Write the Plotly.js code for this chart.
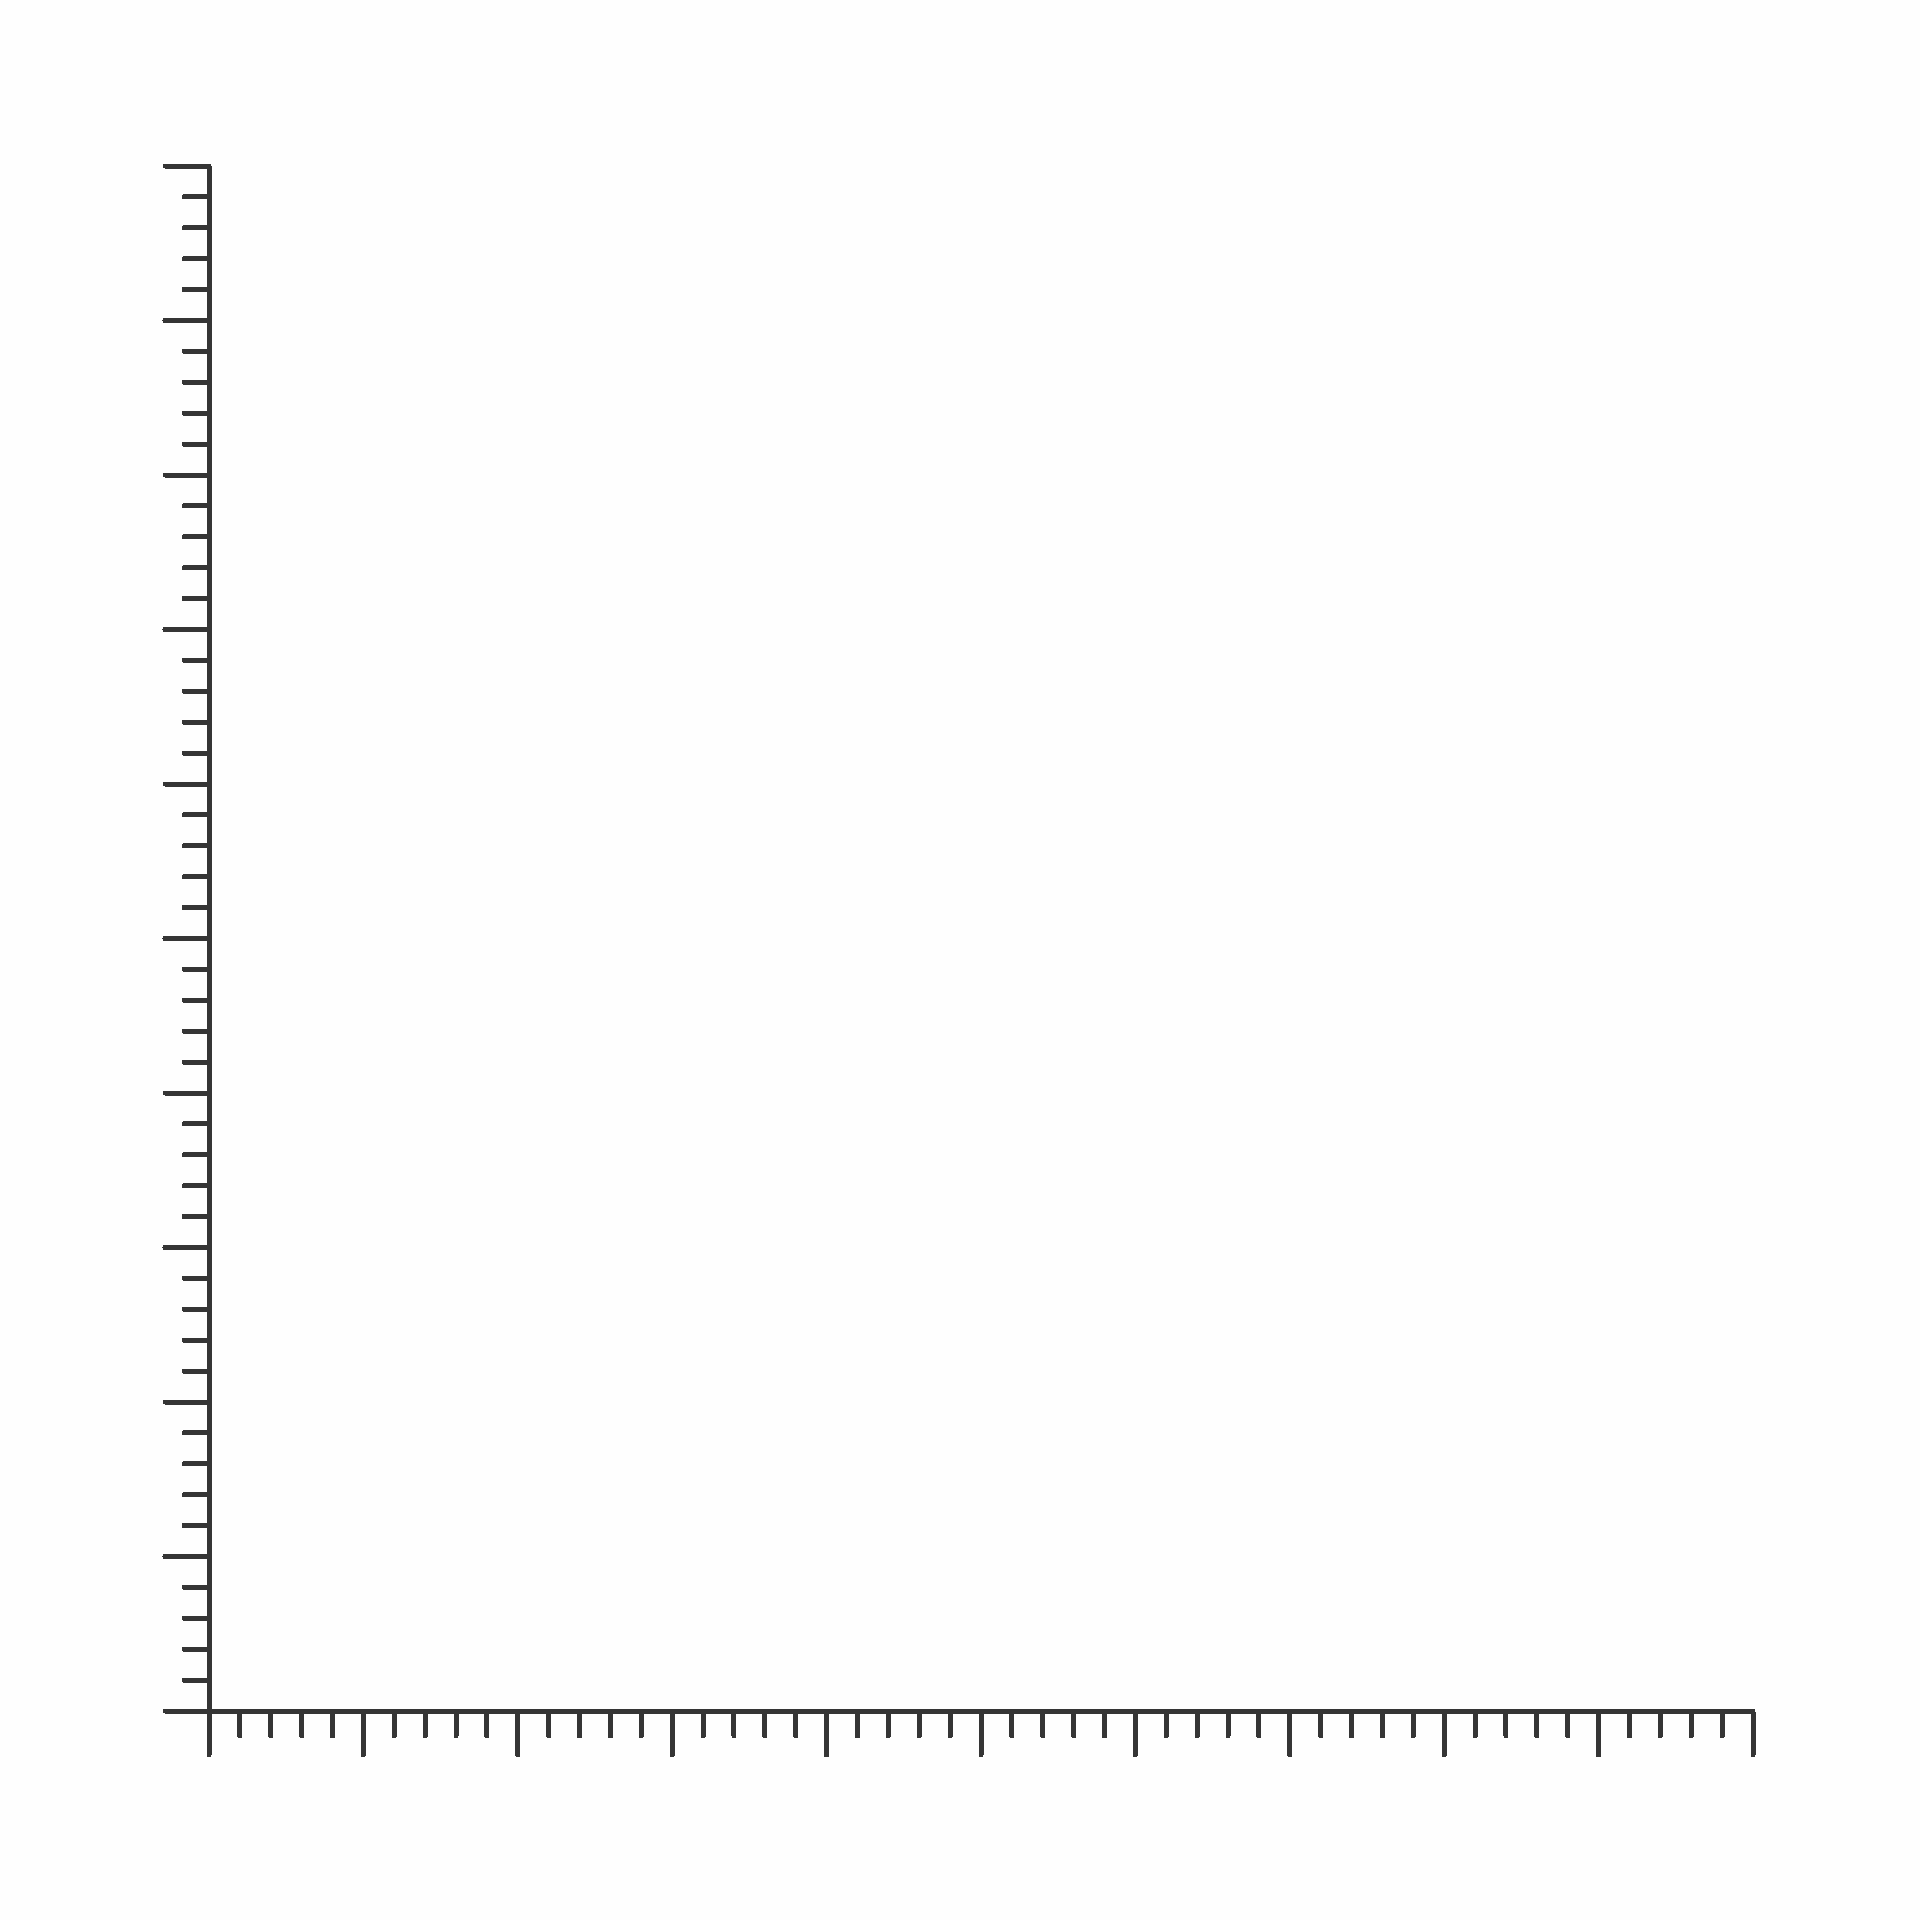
<!DOCTYPE html>
<html>
<head>
<meta charset="utf-8">
<script src="https://cdn.plot.ly/plotly-3.0.1.min.js"></script>
<style>
  body { margin: 0; background: #fefefe; }
  #chart { width: 1920px; height: 1920px; }
  /* rounded ends like the reference strokes */
  #chart path.ticks, #chart path.crisp { stroke-linecap: round; stroke-linejoin: round; }
</style>
</head>
<body>
<div id="chart"></div>
<script>
// blank graph paper axes: 0..10, major every 1, minor every 0.2
var majorTicks = [0, 1, 2, 3, 4, 5, 6, 7, 8, 9, 10];
var minorTicks = [0.2, 0.4, 0.6, 0.8, 1.2, 1.4, 1.6, 1.8, 2.2, 2.4, 2.6, 2.8,
  3.2, 3.4, 3.6, 3.8, 4.2, 4.4, 4.6, 4.8, 5.2, 5.4, 5.6, 5.8, 6.2, 6.4, 6.6, 6.8,
  7.2, 7.4, 7.6, 7.8, 8.2, 8.4, 8.6, 8.8, 9.2, 9.4, 9.6, 9.8];
var axisRange = [0, 10];

var inkColor = '#353535';

// the axis lines are the zero lines, so they sit centred on the plot edge
// and the ticks start right on them
function makeAxis() {
  return {
    range: axisRange,
    showgrid: false,
    showline: false,
    zeroline: true,
    zerolinecolor: inkColor,
    zerolinewidth: 5,
    ticks: 'outside',
    tickmode: 'array',
    tickvals: majorTicks,
    ticklen: 43,
    tickwidth: 5,
    tickcolor: inkColor,
    showticklabels: false,
    minor: {
      tickmode: 'array',
      tickvals: minorTicks,
      ticks: 'outside',
      ticklen: 24,
      tickwidth: 5,
      tickcolor: inkColor,
      showgrid: false
    },
    fixedrange: true
  };
}

var data = [{
  x: [],
  y: [],
  type: 'scatter',
  mode: 'lines'
}];

var layout = {
  width: 1920,
  height: 1920,
  showlegend: false,
  paper_bgcolor: '#fefefe',
  plot_bgcolor: '#fefefe',
  margin: { l: 209, r: 167, t: 166, b: 209 },
  xaxis: makeAxis(),
  yaxis: makeAxis()
};

Plotly.newPlot('chart', data, layout, { staticPlot: true });
</script>
</body>
</html>
